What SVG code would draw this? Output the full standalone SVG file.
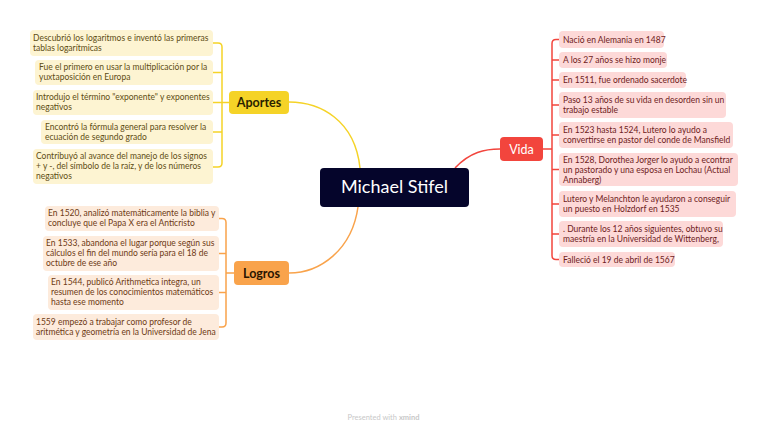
<svg xmlns="http://www.w3.org/2000/svg" width="768" height="433" viewBox="0 0 768 433">
<style>
text{font-family:Lato,"Open Sans","Liberation Sans",sans-serif}
.t{font-size:8.5px}
.ya{fill:#fdf4d2}.yt{fill:#5e4d14}
.oa{fill:#fdebdc}.ot{fill:#6e3a14}
.ra{fill:#fdd9d8}.rt{fill:#6e1c1c}
.cy{stroke:#f5d327;stroke-width:1.5;fill:none}
.co{stroke:#f9a34b;stroke-width:1.5;fill:none}
.cr{stroke:#f2453d;stroke-width:1.5;fill:none}
.main{font-size:12.5px;font-weight:bold}
</style>
<rect width="768" height="433" fill="#fff"/>
<g id="connectors">
<path class="cy" d="M360,168 C355,120 320,102 289,102"/>
<path class="co" d="M358,207 C352,250 320,273 289,273"/>
<path class="cr" d="M455,168 C470,152 485,149 500,149"/>
<path class="cy" d="M229,102.5 H222 M213,43 H218 Q222,43 222,47 V163 Q222,167 218,167 H213 M213,72.5 H222 M213,102.5 H222 M213,132 H222"/>
<path class="co" d="M234,273 H226 M219,218.5 H222 Q226,218.5 226,222.5 V323 Q226,327 222,327 H219 M219,253.5 H226 M219,292.5 H226"/>
<path class="cr" d="M543,149 H552 M559,39.5 H556 Q552,39.5 552,43.5 V255.5 Q552,259.5 556,259.5 H559 M552,60 H559 M552,80 H559 M552,105 H559 M552,135 H559 M552,169.5 H559 M552,204 H559 M552,234 H559"/>
</g>
<g id="center">
<rect x="320" y="168" width="149" height="39" rx="4" fill="#05052b"/>
<text x="394.5" y="193" text-anchor="middle" font-size="18" fill="#fff">Michael Stifel</text>
</g>
<g id="aportes">
<rect x="229" y="91" width="60" height="23" rx="4" fill="#f5d327"/>
<text class="main" x="259" y="106.5" text-anchor="middle" fill="#2a2200">Aportes</text>
</g>
<g id="logros">
<rect x="234" y="261" width="55" height="24" rx="4" fill="#f9a34b"/>
<text class="main" x="261.5" y="277.5" text-anchor="middle" fill="#2a1500">Logros</text>
</g>
<g id="vida">
<rect x="500" y="137" width="43" height="24" rx="4" fill="#f2453d"/>
<text x="521.5" y="153.5" text-anchor="middle" fill="#fff" font-size="12.5">Vida</text>
</g>
<g id="a1"><rect class="ya" x="30" y="30" width="183" height="26" rx="4"/><text class="t yt" x="33" y="40.5">Descubrió los logaritmos e inventó las primeras</text><text class="t yt" x="33" y="50.5">tablas logarítmicas</text></g>
<g id="a2"><rect class="ya" x="35" y="60" width="178" height="25" rx="4"/><text class="t yt" x="39" y="70">Fue el primero en usar la multiplicación por la</text><text class="t yt" x="39" y="80">yuxtaposición en Europa</text></g>
<g id="a3"><rect class="ya" x="33" y="90" width="180" height="25" rx="4"/><text class="t yt" x="36" y="100">Introdujo el término "exponente" y exponentes</text><text class="t yt" x="36" y="110">negativos</text></g>
<g id="a4"><rect class="ya" x="41" y="120" width="172" height="24" rx="4"/><text class="t yt" x="45" y="130">Encontró la fórmula general para resolver la</text><text class="t yt" x="45" y="140">ecuación de segundo grado</text></g>
<g id="a5"><rect class="ya" x="33" y="149" width="180" height="35" rx="4"/><text class="t yt" x="36" y="159">Contribuyó al avance del manejo de los signos</text><text class="t yt" x="36" y="169">+ y -, del símbolo de la raíz, y de los números</text><text class="t yt" x="36" y="179">negativos</text></g>
<g id="l1"><rect class="oa" x="45" y="206" width="174" height="25" rx="4"/><text class="t ot" x="48" y="216">En 1520, analizó matemáticamente la biblia y</text><text class="t ot" x="48" y="226">concluye que el Papa X era el Anticristo</text></g>
<g id="l2"><rect class="oa" x="43" y="236" width="176" height="35" rx="4"/><text class="t ot" x="46" y="246">En 1533, abandona el lugar porque según sus</text><text class="t ot" x="46" y="256">cálculos el fin del mundo sería para el 18 de</text><text class="t ot" x="46" y="266">octubre de ese año</text></g>
<g id="l3"><rect class="oa" x="48" y="275" width="171" height="35" rx="4"/><text class="t ot" x="51" y="285">En 1544, publicó Arithmetica integra, un</text><text class="t ot" x="51" y="295">resumen de los conocimientos matemáticos</text><text class="t ot" x="51" y="305">hasta ese momento</text></g>
<g id="l4"><rect class="oa" x="33" y="314" width="186" height="26" rx="4"/><text class="t ot" x="36" y="324.5">1559 empezó a trabajar como profesor de</text><text class="t ot" x="36" y="334.5">aritmética y geometría en la Universidad de Jena</text></g>
<g id="v1"><rect class="ra" x="559" y="31" width="105" height="17" rx="4"/><text class="t rt" x="563" y="42.5">Nació en Alemania en 1487</text></g>
<g id="v2"><rect class="ra" x="559" y="52" width="108" height="16" rx="4"/><text class="t rt" x="563" y="63">A los 27 años se hizo monje</text></g>
<g id="v3"><rect class="ra" x="559" y="72" width="127" height="16" rx="4"/><text class="t rt" x="563" y="83">En 1511, fue ordenado sacerdote</text></g>
<g id="v4"><rect class="ra" x="559" y="92" width="167" height="26" rx="4"/><text class="t rt" x="563" y="102.5">Paso 13 años de su vida en desorden sin un</text><text class="t rt" x="563" y="112.5">trabajo estable</text></g>
<g id="v5"><rect class="ra" x="559" y="122" width="174" height="26" rx="4"/><text class="t rt" x="563" y="132.5">En 1523 hasta 1524, Lutero lo ayudo a</text><text class="t rt" x="563" y="142.5">convertirse en pastor del conde de Mansfield</text></g>
<g id="v6"><rect class="ra" x="559" y="153" width="179" height="33" rx="4"/><text class="t rt" x="563" y="162.5">En 1528, Dorothea Jorger lo ayudo a econtrar</text><text class="t rt" x="563" y="172.5">un pastorado y una esposa en Lochau (Actual</text><text class="t rt" x="563" y="182.5">Annaberg)</text></g>
<g id="v7"><rect class="ra" x="559" y="191" width="177" height="26" rx="4"/><text class="t rt" x="563" y="201.5">Lutero y Melanchton le ayudaron a conseguir</text><text class="t rt" x="563" y="211.5">un puesto en Holzdorf en 1535</text></g>
<g id="v8"><rect class="ra" x="559" y="221" width="164" height="26" rx="4"/><text class="t rt" x="563" y="231.5">. Durante los 12 años siguientes, obtuvo su</text><text class="t rt" x="563" y="241.5">maestría en la Universidad de Wittenberg,</text></g>
<g id="v9"><rect class="ra" x="559" y="252" width="116" height="15" rx="4"/><text class="t rt" x="563" y="262.5">Falleció el 19 de abril de 1567</text></g>
<text x="383.5" y="420" text-anchor="middle" font-size="7.5" fill="#c8c8c8">Presented with <tspan font-weight="bold">xmind</tspan></text>
</svg>
